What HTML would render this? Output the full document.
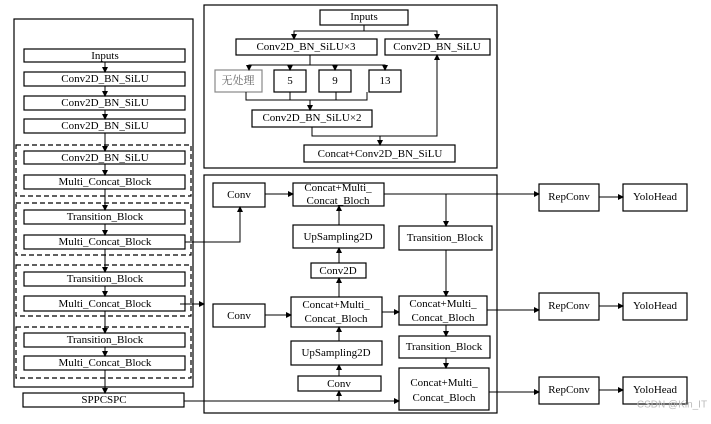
<!DOCTYPE html><html><head><meta charset="utf-8"><style>body{margin:0;background:#fff}text{font-family:"Liberation Serif","Noto Serif CJK SC",serif;font-size:11px;text-anchor:middle;dominant-baseline:central;fill:#000}</style></head><body>
<svg width="711" height="419" xmlns="http://www.w3.org/2000/svg">
<defs><marker id="a" markerWidth="6" markerHeight="6" refX="5" refY="3" orient="auto"><path d="M0,0L6,3L0,6z" fill="#000"/></marker></defs>
<g fill="none" stroke="#000" stroke-width="1.2">
<rect x="14" y="19" width="179" height="368"/>
<rect x="204" y="5" width="293" height="163"/>
<rect x="204" y="175" width="293" height="238"/>
<g stroke-dasharray="5,3"><rect x="16" y="145" width="175" height="51"/><rect x="16" y="203" width="175" height="52"/><rect x="16" y="265" width="175" height="51"/><rect x="16" y="327" width="175" height="51"/></g>
<rect x="24" y="49" width="161" height="13"/><rect x="24" y="72" width="161" height="14"/><rect x="24" y="96" width="161" height="14"/><rect x="24" y="119" width="161" height="14"/>
<rect x="24" y="151" width="161" height="13"/><rect x="24" y="175" width="161" height="14"/>
<rect x="24" y="210" width="161" height="14"/><rect x="24" y="235" width="161" height="14"/>
<rect x="24" y="272" width="161" height="14"/><rect x="24" y="296" width="161" height="15"/>
<rect x="24" y="333" width="161" height="14"/><rect x="24" y="356" width="161" height="14"/>
<rect x="23" y="393" width="161" height="14"/>
<rect x="320" y="10" width="88" height="15"/><rect x="236" y="39" width="141" height="16"/><rect x="385" y="39" width="105" height="16"/>
<rect x="215" y="70" width="47" height="22" stroke="#888"/><rect x="274" y="70" width="32" height="22"/><rect x="319" y="70" width="32" height="22"/><rect x="369" y="70" width="32" height="22"/>
<rect x="252" y="110" width="120" height="17"/><rect x="304" y="145" width="151" height="17"/>
<rect x="213" y="183" width="52" height="24"/><rect x="293" y="183" width="91" height="23"/><rect x="293" y="225" width="91" height="23"/><rect x="311" y="263" width="55" height="15"/>
<rect x="291" y="297" width="91" height="30"/><rect x="291" y="341" width="91" height="24"/><rect x="298" y="376" width="83" height="15"/>
<rect x="399" y="226" width="93" height="24"/><rect x="399" y="296" width="88" height="29"/><rect x="399" y="336" width="91" height="22"/><rect x="399" y="368" width="90" height="42"/>
<rect x="213" y="304" width="52" height="23"/>
<rect x="539" y="184" width="60" height="27"/><rect x="623" y="184" width="64" height="27"/>
<rect x="539" y="293" width="60" height="27"/><rect x="623" y="293" width="64" height="27"/>
<rect x="539" y="377" width="60" height="27"/><rect x="623" y="377" width="64" height="27"/>
</g>
<g fill="none" stroke="#000" stroke-width="1" marker-end="url(#a)">
<path d="M105 62V72"/><path d="M105 86V96"/><path d="M105 110V119"/><path d="M105 133V151"/><path d="M105 164V175"/><path d="M105 189V210"/><path d="M105 224V235"/><path d="M105 249V272"/><path d="M105 286V296"/><path d="M105 311V333"/><path d="M105 347V356"/><path d="M105 370V393"/>
<path d="M185 242H240V207"/><path d="M180 304H204"/><path d="M184 401H399"/><path d="M339 401V391"/>
<path d="M364 25V31H294V39"/><path d="M364 31H437V39"/>
<path d="M310 55V65H249V70"/><path d="M290 65V70"/><path d="M335 65V70"/><path d="M310 65H385V70"/>
<path d="M246 92V100H367V92M290 92V100M336 92V100" marker-end="none"/><path d="M310 100V110"/>
<path d="M312 127V136H437V55"/><path d="M380 136V145"/>
<path d="M265 194H293"/><path d="M384 194H539"/><path d="M446 194V226"/><path d="M446 250V296"/>
<path d="M339 225V206"/><path d="M339 263V248"/><path d="M339 297V278"/><path d="M339 341V327"/><path d="M339 376V365"/>
<path d="M265 315H291"/><path d="M382 312H399"/><path d="M446 325V336"/><path d="M446 358V368"/>
<path d="M487 310H539"/><path d="M489 392H539"/>
<path d="M599 197H623"/><path d="M599 306H623"/><path d="M599 390H623"/>
</g>
<text x="105" y="56">Inputs</text><text x="105" y="79">Conv2D_BN_SiLU</text><text x="105" y="103">Conv2D_BN_SiLU</text><text x="105" y="126">Conv2D_BN_SiLU</text>
<text x="105" y="158">Conv2D_BN_SiLU</text><text x="105" y="182">Multi_Concat_Block</text>
<text x="105" y="217">Transition_Block</text><text x="105" y="242">Multi_Concat_Block</text>
<text x="105" y="279">Transition_Block</text><text x="105" y="304">Multi_Concat_Block</text>
<text x="105" y="340">Transition_Block</text><text x="105" y="363">Multi_Concat_Block</text>
<text x="104" y="400">SPPCSPC</text>
<text x="364" y="17">Inputs</text><text x="306" y="47">Conv2D_BN_SiLU×3</text><text x="437" y="47">Conv2D_BN_SiLU</text>
<text x="238" y="81" style="fill:#666">无处理</text><text x="290" y="81">5</text><text x="335" y="81">9</text><text x="385" y="81">13</text>
<text x="312" y="118">Conv2D_BN_SiLU×2</text><text x="380" y="154">Concat+Conv2D_BN_SiLU</text>
<text x="239" y="195">Conv</text><text x="338" y="188">Concat+Multi_</text><text x="338" y="201">Concat_Bloch</text>
<text x="338" y="237">UpSampling2D</text><text x="338" y="271">Conv2D</text>
<text x="336" y="305">Concat+Multi_</text><text x="336" y="319">Concat_Bloch</text>
<text x="336" y="353">UpSampling2D</text><text x="339" y="384">Conv</text><text x="239" y="316">Conv</text>
<text x="445" y="238">Transition_Block</text><text x="443" y="304">Concat+Multi_</text><text x="443" y="318">Concat_Bloch</text>
<text x="444" y="347">Transition_Block</text><text x="444" y="383">Concat+Multi_</text><text x="444" y="398">Concat_Bloch</text>
<text x="569" y="197">RepConv</text><text x="655" y="197">YoloHead</text>
<text x="569" y="306">RepConv</text><text x="655" y="306">YoloHead</text>
<text x="569" y="390">RepConv</text><text x="655" y="390">YoloHead</text>
<text x="672" y="405" style="font-family:'Liberation Sans',sans-serif;font-size:10px;fill:#bbb">CSDN @Kin_IT</text>
</svg></body></html>
